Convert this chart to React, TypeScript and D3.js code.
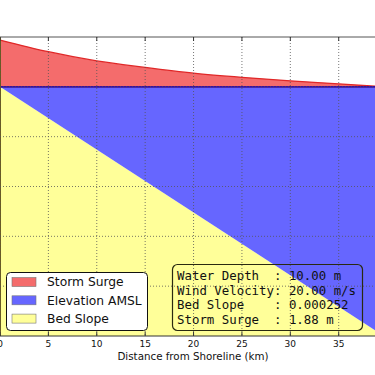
import React from "react";
import * as d3 from "d3";

// distance from shoreline (km) and the surge height above still water (m)
const distanceKm = [0, 5, 10, 15, 20, 25, 30, 35, 39.68];
const surgeM = [1.88, 1.41, 1.04, 0.78, 0.55, 0.38, 0.24, 0.12, 0];

// straight bed line, end points only
const bedKm = [0, 39.68];
const bedM = [0, -10];

const xTicks = [0, 5, 10, 15, 20, 25, 30, 35];
const yGrid = [-8, -6, -4, -2, 0];

const legendItems = ["Storm Surge", "Elevation AMSL", "Bed Slope"];
const infoLines = [
  "Water Depth  : 10.00 m",
  "Wind Velocity: 20.00 m/s",
  "Bed Slope    : 0.000252",
  "Storm Surge  : 1.88 m",
];

const RED = "#f46c6c";
const BLUE = "#6666ff";
const YELLOW = "#ffff99";

const App = () => {
  const width = 375;
  const height = 375;
  const top = 37;
  const bottom = 336;

  const x = d3.scaleLinear().domain([0, 39.68]).range([0, 384]);
  const y = d3.scaleLinear().domain([-10, 2]).range([bottom, top]);

  const bed = bedKm.map((d, i) => ({ d, v: bedM[i] }));
  const surge = distanceKm.map((d, i) => ({ d, v: surgeM[i] }));

  const yellowArea = d3
    .area<{ d: number; v: number }>()
    .x((p) => x(p.d))
    .y0(y(-10))
    .y1((p) => y(p.v))(bed);

  const blueArea = d3
    .area<{ d: number; v: number }>()
    .x((p) => x(p.d))
    .y0((p) => y(p.v))
    .y1(y(0))(bed);

  const redArea = d3
    .area<{ d: number; v: number }>()
    .curve(d3.curveMonotoneX)
    .x((p) => x(p.d))
    .y0(y(0))
    .y1((p) => y(p.v))(surge);

  const redLine = d3
    .line<{ d: number; v: number }>()
    .curve(d3.curveMonotoneX)
    .x((p) => x(p.d))
    .y((p) => y(p.v))(surge);

  const colors = [RED, BLUE, YELLOW];

  return (
    <svg
      width={width}
      height={height}
      style={{ position: "absolute", left: 0, top: 0, background: "#fff" }}
    >
      <path d={yellowArea!} fill={YELLOW} />
      <path d={blueArea!} fill={BLUE} />
      <path d={redArea!} fill={RED} />
      <path d={redLine!} fill="none" stroke="#e02828" strokeWidth={1.3} />
      <line x1={0} x2={width} y1={y(0)} y2={y(0)} stroke="#3a109c" strokeWidth={1.6} />
      <line x1={0.5} x2={0.5} y1={top} y2={bottom} stroke="#6a5a20" strokeWidth={1} />

      {/* grid */}
      {xTicks.map((t) => (
        <line
          key={"gx" + t}
          x1={x(t)}
          x2={x(t)}
          y1={top}
          y2={bottom}
          stroke="#555"
          strokeWidth={0.8}
          strokeDasharray="1,2"
        />
      ))}
      {yGrid.map((t) => (
        <line
          key={"gy" + t}
          x1={0}
          x2={width}
          y1={y(t)}
          y2={y(t)}
          stroke="#555"
          strokeWidth={0.8}
          strokeDasharray="1,2"
        />
      ))}

      {/* spines */}
      <line x1={0} x2={width} y1={top} y2={top} stroke="#555" strokeWidth={1} />
      <line x1={0} x2={width} y1={bottom} y2={bottom} stroke="#333" strokeWidth={1} />
      {xTicks.map((t) => (
        <g key={"t" + t}>
          <line x1={x(t)} x2={x(t)} y1={bottom} y2={bottom - 4} stroke="#333" />
          <line x1={x(t)} x2={x(t)} y1={top} y2={top + 4} stroke="#333" />
          <text
            x={x(t)}
            y={347}
            textAnchor="middle"
            fontFamily="DejaVu Sans"
            fontSize={9}
            fill="#111"
          >
            {t}
          </text>
        </g>
      ))}
      <text
        x={193}
        y={360}
        textAnchor="middle"
        fontFamily="DejaVu Sans"
        fontSize={10.3}
        fill="#111"
      >
        Distance from Shoreline (km)
      </text>

      {/* legend */}
      <rect x={6.5} y={272.5} width={141} height={58} rx={4} fill="#fff" stroke="#111" strokeWidth={1} />
      {legendItems.map((name, i) => (
        <g key={name} transform={`translate(12, ${282 + i * 18.3})`}>
          <rect x={0} y={-4.5} width={24} height={9} fill={colors[i]} stroke="#777" strokeWidth={0.6} />
          <text x={35} y={4.3} fontFamily="DejaVu Sans" fontSize={12.3} fill="#111">
            {name}
          </text>
        </g>
      ))}

      {/* info box */}
      <rect x={172.5} y={264.5} width={190} height={66} rx={5} fill="none" stroke="#2a2a10" strokeWidth={1.2} />
      {infoLines.map((s, i) => (
        <text
          key={s}
          x={177}
          y={280 + i * 14.6}
          fontFamily="DejaVu Sans Mono"
          fontSize={12.4}
          fill="#111"
          style={{ whiteSpace: "pre" }}
        >
          {s}
        </text>
      ))}
    </svg>
  );
};

export default App;
